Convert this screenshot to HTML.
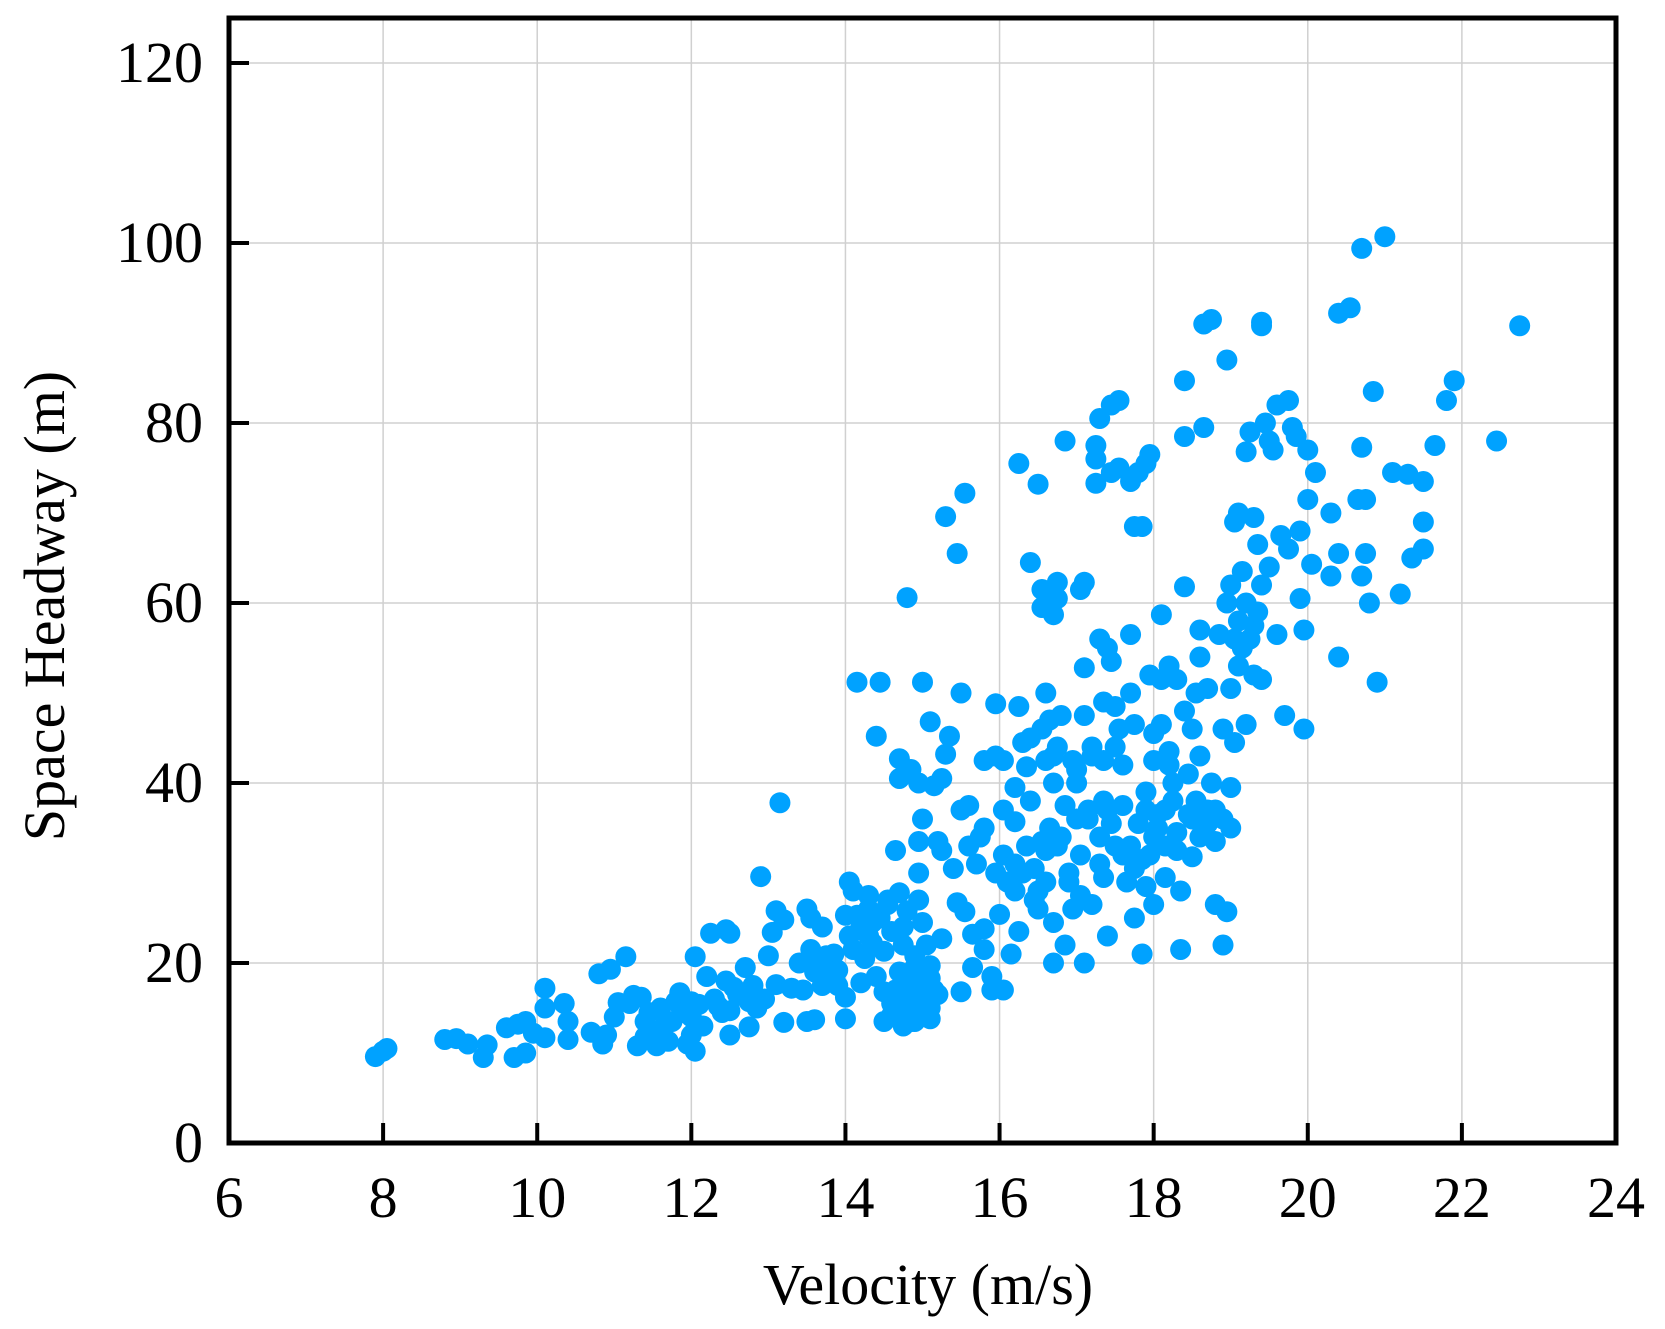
<!DOCTYPE html>
<html><head><meta charset="utf-8">
<style>
html,body{margin:0;padding:0;background:#fff;}
svg{display:block;}
text{font-family:"Liberation Serif",serif;fill:#000;}
</style></head>
<body>
<svg id="chart" width="1665" height="1329" viewBox="0 0 1665 1329" xmlns="http://www.w3.org/2000/svg">
<g id="grid"></g>
<g id="points"></g>
<g id="axes"></g>
<text x="928" y="1304" font-size="58" text-anchor="middle">Velocity (m/s)</text>
<text x="0" y="0" font-size="58" text-anchor="middle" transform="translate(64,606) rotate(-90)">Space Headway (m)</text>
</svg>
<script>
const xTicks = [6,8,10,12,14,16,18,20,22,24];
const yTicks = [0,20,40,60,80,100,120];
const velocity = [7.9,8.0,8.05,8.8,8.95,9.1,9.3,9.35,9.6,9.7,9.75,9.85,9.85,9.95,10.1,10.1,10.1,10.35,10.4,10.4,10.7,10.8,10.85,10.9,10.95,11.0,11.05,11.15,11.25,11.3,11.35,11.4,11.4,11.55,11.6,11.65,11.7,11.8,11.85,11.9,11.95,12.0,12.0,12.05,12.05,12.1,12.2,12.25,12.35,12.45,12.45,12.5,12.5,12.5,12.55,12.65,12.7,12.75,12.75,12.85,12.9,12.95,13.0,13.05,13.1,13.1,13.15,13.2,13.2,13.3,13.45,13.5,13.5,13.55,13.6,13.6,13.6,13.7,13.7,13.75,13.8,13.85,13.9,14.0,14.0,14.0,14.05,14.05,14.1,14.15,14.15,14.2,14.25,14.3,14.3,14.35,14.4,14.4,14.45,14.45,14.5,14.5,14.5,14.55,14.6,14.65,14.7,14.7,14.7,14.75,14.75,14.75,14.75,14.8,14.8,14.85,14.85,14.9,14.9,14.9,14.95,14.95,14.95,14.95,15.0,15.0,15.0,15.0,15.0,15.05,15.1,15.1,15.1,15.1,15.15,15.2,15.25,15.25,15.25,15.3,15.3,15.35,15.4,15.45,15.45,15.5,15.5,15.5,15.55,15.55,15.6,15.6,15.65,15.65,15.7,15.75,15.8,15.8,15.8,15.8,15.9,15.9,15.95,15.95,15.95,16.0,16.05,16.05,16.05,16.05,16.1,16.15,16.2,16.2,16.2,16.25,16.25,16.25,16.3,16.3,16.35,16.4,16.4,16.45,16.45,16.5,16.5,16.55,16.55,16.55,16.6,16.6,16.6,16.65,16.65,16.7,16.7,16.7,16.7,16.75,16.75,16.75,16.75,16.8,16.85,16.85,16.85,16.9,16.95,16.95,17.0,17.0,17.05,17.05,17.1,17.1,17.1,17.1,17.15,17.2,17.2,17.25,17.25,17.25,17.3,17.3,17.3,17.35,17.35,17.35,17.4,17.4,17.45,17.45,17.45,17.45,17.5,17.5,17.55,17.55,17.55,17.6,17.65,17.7,17.7,17.7,17.7,17.75,17.75,17.75,17.8,17.85,17.85,17.85,17.9,17.9,17.9,17.95,17.95,18.0,18.0,18.0,18.0,18.1,18.1,18.1,18.15,18.15,18.2,18.2,18.25,18.3,18.3,18.35,18.35,18.4,18.4,18.4,18.4,18.45,18.5,18.5,18.5,18.55,18.6,18.6,18.6,18.65,18.65,18.7,18.7,18.75,18.75,18.8,18.8,18.85,18.9,18.9,18.9,18.95,18.95,18.95,19.0,19.0,19.0,19.0,19.05,19.05,19.1,19.1,19.15,19.15,19.2,19.2,19.25,19.3,19.3,19.35,19.4,19.4,19.4,19.4,19.45,19.5,19.5,19.55,19.6,19.6,19.65,19.7,19.75,19.75,19.8,19.85,19.9,19.9,19.95,19.95,20.0,20.0,20.05,20.1,20.3,20.3,20.4,20.4,20.4,20.55,20.65,20.7,20.7,20.7,20.75,20.75,20.8,20.85,20.9,21.0,21.1,21.2,21.3,21.35,21.5,21.5,21.5,21.65,21.8,21.9,22.45,22.75,
  14.6,14.65,14.7,14.8,14.85,14.9,14.95,15.0,15.05,15.1,15.15,14.7,14.8,14.9,15.0,15.2,14.6,14.55,14.75,15.05,13.4,13.55,13.65,13.8,13.9,14.1,14.2,14.3,14.35,13.7,11.2,11.45,11.6,11.75,12.0,12.15,12.3,12.4,12.6,12.8,16.2,16.35,16.5,16.6,16.8,16.9,17.05,17.15,17.3,17.4,17.5,17.6,17.75,17.8,17.95,18.05,18.15,18.25,18.3,18.45,18.55,18.6,18.7,18.8,16.4,16.55,16.7,17.0,17.2,17.35,17.6,17.9,18.05,18.2,19.05,19.1,19.2,19.25,19.3,19.35];
const headway = [9.6,10.2,10.5,11.5,11.6,11,9.5,10.9,12.8,9.5,13.2,13.5,10,12.2,11.7,17.2,15,15.5,13.5,11.5,12.3,18.8,11,12,19.3,14,15.6,20.7,16.4,10.8,16.2,11.8,13.5,10.8,15,13,11.3,15.7,16.7,14.5,11,15.7,12,10.2,20.7,15.4,18.5,23.3,15.2,18,23.7,23.3,14.7,12,17.3,16.4,19.5,12.9,15.7,15,29.6,16,20.8,23.4,25.8,17.6,37.8,24.8,13.4,17.2,17,13.5,26,25,20.4,19,13.7,24,18.4,20.8,18.6,21,19.2,25.3,13.8,16.2,23,29,28,25.3,51.2,17.8,20.5,26,23,22.2,18.5,45.2,51.2,25,13.5,16.8,21.3,27,14.2,32.5,40.5,42.7,27.8,13,15.8,18,22,60.6,25.8,41.5,13.5,19.5,16.5,20.8,40,27,30,33.5,51.2,36,24.5,17.5,14.5,15.5,46.8,19.7,13.8,18.3,39.7,33.5,32.5,22.7,40.5,69.6,43.2,45.2,30.5,65.5,26.7,16.8,37,50,72.2,25.7,33,37.5,23.2,19.5,31,34,42.5,21.5,23.8,35,17,18.5,43,30,48.8,25.4,42.5,37,17,32,29,21,35.7,39.5,28,75.5,48.5,23.5,30,44.5,41.8,64.5,38,27,30.5,73.2,26,61.5,59.5,33.5,50,42.5,29,47,35,58.7,40,24.5,20,62.3,60.5,44,33,47.5,78,37.5,22,30,42.5,26,41.5,36,61.5,32,62.3,52.8,47.5,20,37,26.5,43,77.5,76,73.3,80.5,56,34,49,42.5,29.5,55,23,82,74.5,53.5,35.5,48.5,44,82.5,75,46,37.5,29,56.5,73.5,50,33,68.5,46.5,25,74.5,68.5,31.5,21,75.5,37,28.5,76.5,52,45.5,42.5,34,26.5,58.7,51.5,46.5,37,29.5,53,42,40,51.5,32.5,28,21.5,84.7,78.5,61.8,48,41,36,31.8,46,50,57,54,43,79.5,91,37,50.5,91.5,40,33.5,26.5,56.5,46,36,22,87,60,25.7,62,50.5,39.5,35,69,44.5,70,58,63.5,55,76.8,46.5,79,69.5,57.5,66.5,91.2,90.8,62,51.5,80,64,78,77,82,56.5,67.5,47.5,82.5,66,79.5,78.5,68,60.5,57,46,77,71.5,64.3,74.5,70,63,92.2,65.5,54,92.8,71.5,99.4,77.3,63,71.5,65.5,60,83.5,51.2,100.7,74.5,61,74.3,65,73.5,69,66,77.5,82.5,84.7,78,90.8,
  15.5,17,14.5,16,14,15,17.5,16,18.5,15,17,19,17.5,13.5,15,16.5,23.5,26.5,24,22,20,21.5,19,19,17.5,21.5,24,27.5,24.5,17.5,15.5,14.5,12.5,13.5,14,13,16,14.5,16.5,17.5,31,33,28,32.5,34,29,27.5,36,31,37,33,32,30.5,35.5,32,35,33,38,34.5,36.5,38,34,35.5,37,45,46,43,40,44,38,42,39,36.5,43.5,56,53,60,56,52,59];

const NS = 'http://www.w3.org/2000/svg';
const X0 = 229, X1 = 1616, Y0 = 1143, YT = 18;
const xMin = 6, xMax = 24, yMin = 0, yMax = 125;
function sx(v){ return X0 + (v - xMin) / (xMax - xMin) * (X1 - X0); }
function sy(v){ return Y0 - (v - yMin) / (yMax - yMin) * (Y0 - YT); }
function mk(tag, attrs){ const e = document.createElementNS(NS, tag); for (const k in attrs) e.setAttribute(k, attrs[k]); return e; }

const grid = document.getElementById('grid');
xTicks.forEach(function(t){
  if (t === xMin || t === xMax) return;
  const l = mk('line', {x1: sx(t), x2: sx(t), y1: YT, y2: Y0, stroke: '#d0d0d0', 'stroke-width': 1.5});
  
  
  grid.appendChild(l);
});
yTicks.forEach(function(t){
  if (t === yMin) return;
  const l = mk('line', {x1: X0, x2: X1, y1: sy(t), y2: sy(t), stroke: '#d0d0d0', 'stroke-width': 1.5});
  
  
  grid.appendChild(l);
});

const pts = document.getElementById('points');
for (let i = 0; i < velocity.length; i++) {
  const c = mk('circle', {cx: sx(velocity[i]), cy: sy(headway[i]), r: 10.5, fill: '#00A2FF'});
  
  
  pts.appendChild(c);
}

const axes = document.getElementById('axes');
const frame = mk('rect', {x: X0, y: YT, width: X1 - X0, height: Y0 - YT, fill: 'none', stroke: '#000', 'stroke-width': 5});


axes.appendChild(frame);
xTicks.forEach(function(t){
  if (t !== xMin && t !== xMax) {
    const tk = mk('line', {x1: sx(t), x2: sx(t), y1: Y0, y2: Y0 - 20, stroke: '#000', 'stroke-width': 4});
    
    
    axes.appendChild(tk);
  }
  const lb = mk('text', {x: sx(t), y: 1217, 'font-size': 58, 'text-anchor': 'middle'});
  lb.textContent = t;
  
  
  axes.appendChild(lb);
});
yTicks.forEach(function(t){
  if (t !== yMin) {
    const tk = mk('line', {x1: X0, x2: X0 + 20, y1: sy(t), y2: sy(t), stroke: '#000', 'stroke-width': 4});
    
    
    axes.appendChild(tk);
  }
  const lb = mk('text', {x: 203, y: sy(t) + 19, 'font-size': 58, 'text-anchor': 'end'});
  lb.textContent = t;
  
  
  axes.appendChild(lb);
});
</script>
</body></html>
